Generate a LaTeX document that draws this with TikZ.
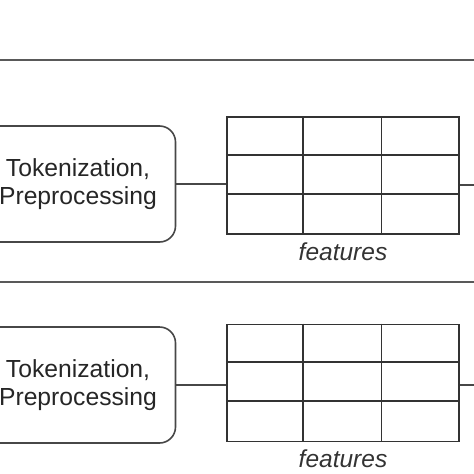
\documentclass[tikz,border=0pt]{standalone}
\usepackage{fontspec}
\setmainfont{Liberation Sans}
\begin{document}
\begin{tikzpicture}[x=1pt,y=-1pt,
  sepline/.style={draw=black!65,line width=2pt},
  procbox/.style={draw=black!72,line width=1.6pt,rounded corners=16pt,minimum width=195pt,minimum height=116pt,align=center,inner sep=0pt,font=\fontsize{24.7}{28.7}\selectfont,text=black!85},
  gridbox/.style={draw=black!80,line width=1.8pt,minimum width=232pt,minimum height=117pt,inner sep=0pt},
  gridline/.style={draw=black!80,line width=1.8pt},
  conn/.style={draw=black!72,line width=1.6pt},
  flabel/.style={font=\fontsize{24.5}{28}\itshape,text=black!80,inner sep=0pt}]
\useasboundingbox (0,0) rectangle (474,474);
% separators
\coordinate (s1l) at (0,60); \coordinate (s1r) at (474,60);
\coordinate (s2l) at (0,282); \coordinate (s2r) at (474,282);
\draw[sepline] (s1l) -- (s1r);
\draw[sepline] (s2l) -- (s2r);
% top row
\node[procbox] (box1) at (78,184) {Tokenization,\\Preprocessing};
\node[gridbox] (grid1) at (342.7,175.7) {};
\draw[gridline] (grid1.north west) ++(77.3,0) -- ++(0,117);
\draw[gridline] (grid1.north west) ++(155.6,0) -- ++(0,117);
\draw[gridline] (grid1.north west) ++(0,38.7) -- ++(232,0);
\draw[gridline] (grid1.north west) ++(0,78) -- ++(232,0);
\node[flabel] (feat1) at (343,251.5) {features};
\draw[conn] (box1.east) -- (box1.east -| grid1.west);
\coordinate (out1) at (474,185);
\draw[conn] (out1 -| grid1.east) -- (out1);
% bottom row
\node[procbox] (box2) at (78,385) {Tokenization,\\Preprocessing};
\node[gridbox] (grid2) at (342.7,383) {};
\draw[gridline] (grid2.north west) ++(77.3,0) -- ++(0,117);
\draw[gridline] (grid2.north west) ++(155.6,0) -- ++(0,117);
\draw[gridline] (grid2.north west) ++(0,38.7) -- ++(232,0);
\draw[gridline] (grid2.north west) ++(0,77.3) -- ++(232,0);
\node[flabel] (feat2) at (343,458.5) {features};
\draw[conn] (box2.east) -- (box2.east -| grid2.west);
\coordinate (out2) at (474,385);
\draw[conn] (out2 -| grid2.east) -- (out2);
\end{tikzpicture}
\end{document}
